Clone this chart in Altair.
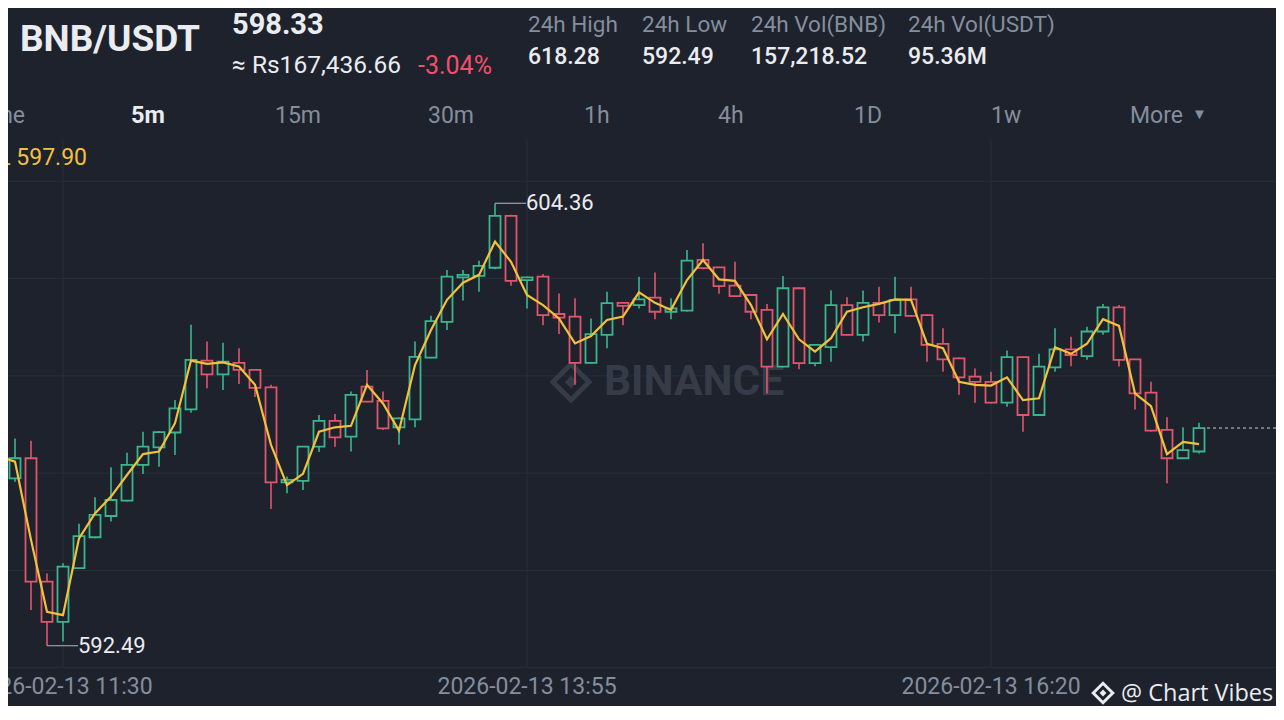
import altair as alt
import pandas as pd

# ---------------- data ----------------
times = pd.date_range("2026-02-13 11:10", periods=76, freq="5min")

opens = [597.38, 596.98, 597.52, 594.21, 593.13, 594.57, 595.40, 595.97, 596.38, 597.34,
         597.81, 598.21, 598.83, 600.14, 599.77, 600.08, 599.89, 599.42, 596.87, 596.91,
         597.83, 598.52, 598.10, 599.44, 599.06, 598.35, 598.56, 600.22, 601.18, 602.37,
         602.41, 602.63, 604.02, 602.30, 602.39, 601.39, 601.32, 600.08, 600.83, 601.69,
         601.63, 601.83, 601.45, 601.48, 602.84, 602.64, 602.15, 601.90, 601.50, 599.98,
         602.08, 600.07, 600.50, 601.63, 600.83, 601.69, 601.36, 601.78, 601.36, 600.59,
         600.20, 599.71, 599.57, 599.01, 600.23, 598.68, 599.96, 600.44, 600.26, 600.92,
         601.57, 600.17, 599.28, 598.28, 597.52, 597.70]
closes = [596.98, 597.52, 594.21, 593.13, 594.61, 595.43, 596.00, 596.40, 597.34, 597.83,
          598.22, 598.86, 600.16, 599.77, 600.11, 599.89, 599.41, 596.87, 596.94, 597.83,
          598.52, 598.08, 599.22, 599.04, 598.32, 598.59, 600.24, 601.20, 602.39, 602.44,
          602.68, 604.02, 602.28, 602.37, 601.36, 601.29, 600.08, 600.85, 601.68, 601.61,
          601.78, 601.45, 601.54, 602.82, 602.62, 602.14, 601.87, 601.45, 599.98, 602.08,
          600.07, 600.56, 601.63, 600.83, 601.69, 601.36, 601.77, 601.34, 600.56, 600.17,
          599.69, 599.57, 599.01, 600.23, 598.68, 599.98, 600.44, 600.29, 600.92, 601.57,
          600.16, 599.26, 598.26, 597.52, 597.74, 598.33]
highs = [598.01, 598.05, 597.99, 594.43, 594.70, 595.76, 596.47, 597.28, 597.67, 598.23,
         598.25, 599.08, 601.10, 600.65, 600.62, 600.47, 599.91, 599.49, 597.03, 597.85,
         598.68, 598.71, 599.31, 599.89, 599.31, 598.61, 600.65, 601.34, 602.57, 602.57,
         602.82, 604.36, 604.05, 602.39, 602.46, 601.94, 601.81, 601.27, 601.99, 601.70,
         602.39, 602.50, 601.81, 603.11, 603.29, 602.66, 602.79, 601.92, 601.66, 602.41,
         602.10, 600.58, 602.03, 601.84, 602.02, 602.12, 602.39, 602.12, 601.38, 601.01,
         600.22, 599.93, 599.84, 600.41, 600.25, 600.32, 601.01, 600.78, 601.05, 601.66,
         601.63, 600.19, 599.57, 598.62, 598.35, 598.47]
lows = [596.91, 596.89, 593.45, 592.49, 592.60, 594.55, 595.37, 595.82, 596.36, 597.10,
        597.29, 597.61, 598.74, 599.40, 599.35, 599.51, 599.16, 596.16, 596.58, 596.67,
        597.69, 597.83, 597.70, 599.02, 598.28, 597.88, 598.35, 600.20, 600.96, 601.75,
        601.99, 602.59, 602.15, 601.54, 601.09, 600.85, 599.49, 600.06, 600.47, 601.09,
        601.54, 601.25, 601.25, 601.46, 602.59, 601.93, 601.85, 601.25, 599.26, 599.96,
        599.91, 599.99, 600.11, 600.82, 600.65, 601.16, 600.87, 601.32, 600.11, 599.84,
        599.22, 599.01, 598.99, 598.90, 598.23, 598.66, 599.84, 599.99, 600.16, 600.83,
        599.98, 598.83, 598.24, 596.85, 597.50, 597.65]
ma_line = [597.56, 597.43, 595.33, 593.40, 593.31, 595.37, 596.04, 596.49, 597.07, 597.63,
           597.70, 598.46, 600.14, 600.05, 600.09, 599.98, 599.49, 597.88, 596.80, 597.10,
           598.23, 598.35, 598.39, 599.49, 598.99, 598.26, 600.02, 600.96, 601.77, 602.23,
           602.44, 603.33, 602.79, 601.90, 601.63, 601.27, 600.60, 600.80, 601.23, 601.32,
           601.97, 601.69, 601.50, 602.30, 602.84, 602.32, 602.28, 601.63, 600.71, 601.39,
           600.71, 600.38, 600.74, 601.45, 601.57, 601.66, 601.78, 601.77, 600.59, 600.47,
           599.57, 599.49, 599.47, 599.69, 599.08, 599.13, 600.50, 600.32, 600.59, 601.25,
           601.07, 599.26, 598.92, 597.63, 597.96, 597.90]

grid_prices = [591.90, 594.51, 597.12, 599.73, 602.34, 604.95]
axis_times = ["2026-02-13T11:30:00", "2026-02-13T13:55:00", "2026-02-13T16:20:00"]
extreme_times = ["2026-02-13T13:45:00", "2026-02-13T11:25:00"]
extreme_prices = [604.36, 592.49]
last_price = [598.33]

# ---------------- style ----------------
BG = "#1e222d"
GRID = "#2a2f3b"
UP = "#3bb68c"
DOWN = "#e0566b"
YEL = "#f2c13c"
WHITE = "#eaecef"
GRAY = "#848e9c"
WM = "#363b48"
W, H = 1268, 698
FONT = "Roboto"

df = pd.DataFrame({"t": times, "open": opens, "close": closes, "high": highs,
                   "low": lows, "ma": ma_line})
df["dir"] = ["up" if c >= o else "down" for o, c in zip(opens, closes)]

xs = alt.Scale(domain=[alt.DateTime(year=2026, month=2, date=13, hours=11, minutes=10),
                       alt.DateTime(year=2026, month=2, date=13, hours=17, minutes=25)],
               range=[-9, 1191], padding=0, nice=False)
ys = alt.Scale(domain=[591.90, 604.95], range=[659.7, 173.3], zero=False, padding=0,
               nice=False)
col = alt.Scale(domain=["up", "down"], range=[UP, DOWN])

X = alt.X("t:T", scale=xs, axis=None)

base = alt.Chart(df)

hgrid = alt.Chart(pd.DataFrame({"g": grid_prices})).mark_rule(color=GRID, strokeWidth=1).encode(
    y=alt.Y("g:Q", scale=ys, axis=None), x=alt.value(0), x2=alt.value(W))
vgrid = alt.Chart(pd.DataFrame({"t": pd.to_datetime(axis_times)})).mark_rule(color=GRID, strokeWidth=1).encode(
    x=X, y=alt.value(132), y2=alt.value(659.7))

wicks = base.mark_rule(strokeWidth=1.6).encode(
    x=X, y=alt.Y("high:Q", scale=ys, axis=None), y2="low:Q",
    color=alt.Color("dir:N", scale=col, legend=None))
bodies = base.mark_bar(width=11, fill=BG, strokeWidth=1.8).encode(
    x=X, y=alt.Y("open:Q", scale=ys, axis=None), y2="close:Q",
    stroke=alt.Stroke("dir:N", scale=col, legend=None))
ma = base.mark_line(color=YEL, strokeWidth=2.2).encode(
    x=X, y=alt.Y("ma:Q", scale=ys, axis=None))

ext = alt.Chart(pd.DataFrame({"t": pd.to_datetime(extreme_times), "p": extreme_prices}))
ext_rule = ext.mark_rule(color="#9aa0aa", strokeWidth=1.2, x2Offset=31).encode(
    x=X, x2="t:T", y=alt.Y("p:Q", scale=ys, axis=None))
ext_text = ext.mark_text(align="left", baseline="middle", dx=31, font=FONT, fontSize=22,
                         color=WHITE).encode(
    x=X, y=alt.Y("p:Q", scale=ys, axis=None), text=alt.Text("p:Q", format=".2f"))

last = alt.Chart(pd.DataFrame({"p": last_price})).mark_rule(
    color="#c9ccd2", strokeWidth=1, strokeDash=[3, 3]).encode(
    y=alt.Y("p:Q", scale=ys, axis=None), x=alt.value(1199), x2=alt.value(W))

xlabels = alt.Chart(pd.DataFrame({"t": pd.to_datetime(axis_times)})).mark_text(
    font=FONT, fontSize=23, color=GRAY, baseline="middle", align="center").encode(
    x=X, y=alt.value(679), text=alt.Text("t:T", format="%Y-%m-%d %H:%M"))


def label(txt, x, y, size, color, weight="normal", align="left", font=FONT):
    return alt.Chart(alt.Data(values=[{"s": txt}])).mark_text(
        font=font, fontSize=size, color=color, fontWeight=weight, align=align,
        baseline="middle").encode(x=alt.value(x - 8), y=alt.value(y - 8), text="s:N")


def logo(x, y, size, color, sw):
    d = alt.Data(values=[{"a": 1}])
    outer = alt.Chart(d).mark_point(shape="diamond", filled=False, size=size, color=color,
                                    strokeWidth=sw, opacity=1).encode(
        x=alt.value(x - 8), y=alt.value(y - 8))
    inner = alt.Chart(d).mark_point(shape="diamond", filled=True, size=size * 0.12,
                                    color=color, opacity=1).encode(
        x=alt.value(x - 8), y=alt.value(y - 8))
    return outer + inner


header = [
    label("BNB/USDT", 20, 40, 37, WHITE, "bold"),
    label("598.33", 232, 25, 29, WHITE, "bold"),
    label("≈ Rs167,436.66", 232, 66, 24.5, WHITE),
    label("-3.04%", 418, 66, 25, "#f0506a"),
    label("24h High", 528, 25, 22.5, GRAY),
    label("618.28", 528, 57, 23, WHITE, 500),
    label("24h Low", 642, 25, 22.5, GRAY),
    label("592.49", 642, 57, 23, WHITE, 500),
    label("24h Vol(BNB)", 751, 25, 22.5, GRAY),
    label("157,218.52", 751, 57, 23, WHITE, 500),
    label("24h Vol(USDT)", 908, 25, 22.5, GRAY),
    label("95.36M", 908, 57, 23, WHITE, 500),
    label("Time", 25, 116, 23, GRAY, align="right"),
    label("5m", 131, 116, 23.5, WHITE, "bold"),
    label("15m", 275, 116, 23, GRAY),
    label("30m", 428, 116, 23, GRAY),
    label("1h", 584, 116, 23, GRAY),
    label("4h", 718, 116, 23, GRAY),
    label("1D", 854, 116, 23, GRAY),
    label("1w", 991, 116, 23, GRAY),
    label("More", 1130, 116, 23, GRAY),
    label("▼", 1192, 114, 15, GRAY),
    label("AVL 597.90", 87, 158, 23, YEL, align="right"),
    label("@ Chart Vibes", 1121, 694, 23.5, WHITE, font="Open Sans"),
]

chart = alt.layer(
    hgrid, vgrid,
    label("BINANCE", 604, 382, 42.5, WM, "bold"),
    logo(571, 382, 1300, WM, 5),
    wicks, bodies, ma, ext_rule, ext_text, last, xlabels,
    *header,
    logo(1103, 693, 380, WHITE, 3),
).properties(
    width=W, height=H, autosize=alt.AutoSizeParams(type="none"), padding=0,
    background=BG
).configure_view(strokeWidth=0)

chart.save("out.html", embed_options={"renderer": "svg", "actions": False})
